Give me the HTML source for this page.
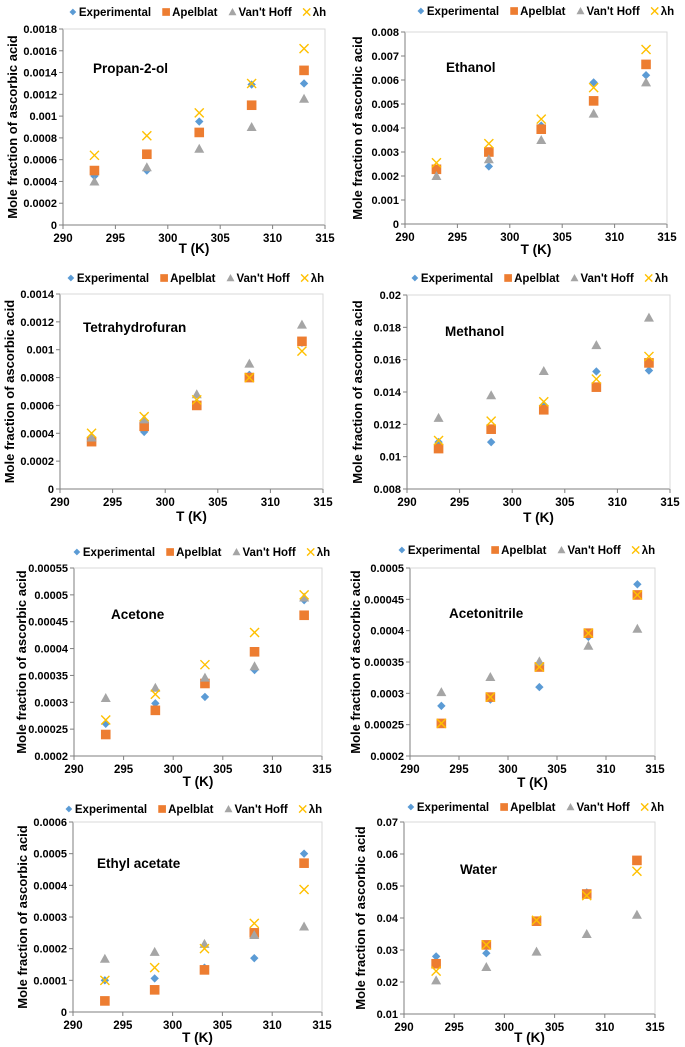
<!DOCTYPE html>
<html><head><meta charset="utf-8"><style>
html,body{margin:0;padding:0;background:#fff;}
svg{display:block;font-family:"Liberation Sans",Arial,sans-serif;font-weight:bold;}
</style></head><body>
<svg id="fig" width="685" height="1047" viewBox="0 0 685 1047" xmlns="http://www.w3.org/2000/svg"></svg>
<script>
// ---- data ----
const temps = [293, 298, 303, 308, 313];
const temps2 = [293.2, 298.2, 303.2, 308.2, 313.2];
const xTicks = [290, 295, 300, 305, 310, 315];
const seriesNames = ["Experimental", "Apelblat", "Van't Hoff", "λh"];

const p1Exp = [0.00045, 0.0005, 0.00095, 0.00129, 0.0013];
const p1Apel = [0.0005, 0.00065, 0.00085, 0.0011, 0.00142];
const p1VH = [0.0004, 0.00053, 0.0007, 0.0009, 0.00116];
const p1Lh = [0.00064, 0.00082, 0.00103, 0.0013, 0.00162];
const p1Ticks = ["0","0.0002","0.0004","0.0006","0.0008","0.001","0.0012","0.0014","0.0016","0.0018"];

const p2Exp = [0.0023, 0.0024, 0.0041, 0.0059, 0.0062];
const p2Apel = [0.00228, 0.003, 0.00395, 0.00513, 0.00665];
const p2VH = [0.002, 0.0027, 0.0035, 0.0046, 0.0059];
const p2Lh = [0.00255, 0.00335, 0.00437, 0.00568, 0.00727];
const p2Ticks = ["0","0.001","0.002","0.003","0.004","0.005","0.006","0.007","0.008"];

const p3Exp = [0.00035, 0.00041, 0.00062, 0.00082, 0.00105];
const p3Apel = [0.00034, 0.00045, 0.0006, 0.0008, 0.00106];
const p3VH = [0.00037, 0.0005, 0.00068, 0.0009, 0.00118];
const p3Lh = [0.0004, 0.00052, 0.00064, 0.0008, 0.00099];
const p3Ticks = ["0","0.0002","0.0004","0.0006","0.0008","0.001","0.0012","0.0014"];

const p4Exp = [0.0109, 0.0109, 0.0132, 0.01527, 0.01533];
const p4Apel = [0.0105, 0.0117, 0.0129, 0.0143, 0.0158];
const p4VH = [0.0124, 0.0138, 0.0153, 0.0169, 0.0186];
const p4Lh = [0.011, 0.0122, 0.0134, 0.0148, 0.0162];
const p4Ticks = ["0.008","0.01","0.012","0.014","0.016","0.018","0.02"];

const p5Exp = [0.00026, 0.000298, 0.00031, 0.00036, 0.00049];
const p5Apel = [0.00024, 0.000285, 0.000335, 0.000394, 0.000462];
const p5VH = [0.000308, 0.000327, 0.000346, 0.000367, 0.000495];
const p5Lh = [0.000267, 0.000315, 0.00037, 0.00043, 0.0005];
const p5Ticks = ["0.0002","0.00025","0.0003","0.00035","0.0004","0.00045","0.0005","0.00055"];

const p6Exp = [0.00028, 0.00029, 0.00031, 0.00039, 0.000474];
const p6Apel = [0.000252, 0.000294, 0.000342, 0.000396, 0.000457];
const p6VH = [0.000302, 0.000326, 0.000351, 0.000376, 0.000403];
const p6Lh = [0.000252, 0.000294, 0.000342, 0.000396, 0.000457];
const p6Ticks = ["0.0002","0.00025","0.0003","0.00035","0.0004","0.00045","0.0005"];

const p7Exp = [0.0001, 0.000106, 0.00014, 0.00017, 0.0005];
const p7Apel = [0.000035, 0.00007, 0.000133, 0.00025, 0.00047];
const p7VH = [0.000168, 0.00019, 0.000215, 0.000243, 0.00027];
const p7Lh = [0.0001, 0.00014, 0.0002, 0.00028, 0.000387];
const p7Ticks = ["0","0.0001","0.0002","0.0003","0.0004","0.0005","0.0006"];

const p8Exp = [0.028, 0.029, 0.039, 0.048, 0.058];
const p8Apel = [0.0257, 0.0316, 0.039, 0.0475, 0.058];
const p8VH = [0.0205, 0.0247, 0.0295, 0.035, 0.041];
const p8Lh = [0.0234, 0.0316, 0.0393, 0.047, 0.0546];
const p8Ticks = ["0.01","0.02","0.03","0.04","0.05","0.06","0.07"];

const panels = [
 {name:"propan-2-ol", title:"Propan-2-ol", T:temps, s:[p1Exp,p1Apel,p1VH,p1Lh], ticks:p1Ticks, x0:63,x1:325,yT:29,yB:225, tx:93,ty:73, ly:12, lc:198, ylx:12, xly:253},
 {name:"ethanol", title:"Ethanol", T:temps, s:[p2Exp,p2Apel,p2VH,p2Lh], ticks:p2Ticks, x0:405,x1:667,yT:32,yB:224, tx:446,ty:72, ly:11, lc:546, ylx:357, xly:254},
 {name:"tetrahydrofuran", title:"Tetrahydrofuran", T:temps, s:[p3Exp,p3Apel,p3VH,p3Lh], ticks:p3Ticks, x0:60,x1:323,yT:294,yB:489, tx:83,ty:332, ly:278, lc:196, ylx:9, xly:521},
 {name:"methanol", title:"Methanol", T:temps, s:[p4Exp,p4Apel,p4VH,p4Lh], ticks:p4Ticks, x0:407,x1:670,yT:295,yB:489, tx:445,ty:336, ly:278, lc:540, ylx:357, xly:522},
 {name:"acetone", title:"Acetone", T:temps2, s:[p5Exp,p5Apel,p5VH,p5Lh], ticks:p5Ticks, x0:74,x1:322,yT:568,yB:756, tx:111,ty:619, ly:552, lc:202, ylx:21, xly:786},
 {name:"acetonitrile", title:"Acetonitrile", T:temps2, s:[p6Exp,p6Apel,p6VH,p6Lh], ticks:p6Ticks, x0:410,x1:655,yT:568,yB:756, tx:449,ty:618, ly:550, lc:527, ylx:355, xly:787},
 {name:"ethyl-acetate", title:"Ethyl acetate", T:temps2, s:[p7Exp,p7Apel,p7VH,p7Lh], ticks:p7Ticks, x0:73,x1:322,yT:822,yB:1012, tx:97,ty:868, ly:809, lc:194, ylx:22, xly:1042},
 {name:"water", title:"Water", T:temps2, s:[p8Exp,p8Apel,p8VH,p8Lh], ticks:p8Ticks, x0:404,x1:655,yT:822,yB:1014, tx:460,ty:874, ly:807, lc:536, ylx:360, xly:1042}
];

const NS = "http://www.w3.org/2000/svg";
const svg = document.getElementById('fig');
function mk(tag, parent, attrs){
  const e = document.createElementNS(NS, tag);
  for (const k in attrs) e.setAttribute(k, attrs[k]);
  parent.appendChild(e);
  return e;
}
const colors = ["#5b9bd5","#ed7d31","#a5a5a5","#ffc000"];
function marker(g, k, x, y, sc){
  sc = sc || 1;
  let e;
  if (k===0){ const r=4.2*sc; e = mk('polygon', g, {points:`${x},${y-r} ${x+r},${y} ${x},${y+r} ${x-r},${y}`, fill:colors[0]}); }
  else if (k===1){ const r=4.8*sc; e = mk('rect', g, {x:x-r,y:y-r,width:2*r,height:2*r,fill:colors[1]}); }
  else if (k===2){ const r=5*sc; e = mk('polygon', g, {points:`${x},${y-r} ${x+r},${y+r*0.8} ${x-r},${y+r*0.8}`, fill:colors[2]}); }
  else { const r=4.5*sc; e = mk('path', g, {d:`M${x-r},${y-r}L${x+r},${y+r}M${x+r},${y-r}L${x-r},${y+r}`, stroke:colors[3], 'stroke-width':1.4, fill:'none'}); }
  return e;
}

panels.forEach(p => {
  const g = mk('g', svg, {});
  
  
  const yMin = parseFloat(p.ticks[0]), yMax = parseFloat(p.ticks[p.ticks.length-1]);
  const xs = v => p.x0 + (v - xTicks[0]) / (xTicks[xTicks.length-1] - xTicks[0]) * (p.x1 - p.x0);
  const ys = v => p.yB - (v - yMin) / (yMax - yMin) * (p.yB - p.yT);

  const ax = mk('path', g, {d:`M${p.x0},${p.yT}V${p.yB}H${p.x1}`, stroke:'#7f7f7f', 'stroke-width':1, fill:'none'});
  
  
  const rb = mk('path', g, {d:`M${p.x0},${p.yT}H${p.x1}V${p.yB}`, stroke:'#d9d9d9', 'stroke-width':1, fill:'none'});
  
  

  p.ticks.forEach(t => {
    const y = ys(parseFloat(t));
    mk('line', g, {x1:p.x0-4, x2:p.x0, y1:y, y2:y, stroke:'#7f7f7f'});
    const tx = mk('text', g, {x:p.x0-6, y:y+4, 'text-anchor':'end', 'font-size':11, fill:'#000'});
    tx.textContent = t;
    
    
  });
  xTicks.forEach(t => {
    const x = xs(t);
    mk('line', g, {x1:x, x2:x, y1:p.yB, y2:p.yB+4, stroke:'#7f7f7f'});
    const tx = mk('text', g, {x:x, y:p.yB+17, 'text-anchor':'middle', 'font-size':11.5, fill:'#000'});
    tx.textContent = t;
    
    
  });
  const xl = mk('text', g, {x:(p.x0+p.x1)/2, y:p.xly, 'text-anchor':'middle', 'font-size':13.5, fill:'#000'});
  xl.textContent = 'T (K)';
  
  
  const yc = (p.yT+p.yB)/2;
  const yl = mk('text', g, {x:p.ylx+5, y:yc, 'text-anchor':'middle', 'font-size':13, fill:'#000', transform:`rotate(-90 ${p.ylx+5} ${yc})`});
  yl.textContent = 'Mole fraction of ascorbic acid';
  
  
  const tt = mk('text', g, {x:p.tx, y:p.ty, 'font-size':13.5, fill:'#000'});
  tt.textContent = p.title;
  
  

  p.s.forEach((vals, k) => {
    const sg = mk('g', g, {});
    
    
    vals.forEach((v, i) => {
      const m = marker(sg, k, xs(p.T[i]), ys(v));
      
      
    });
  });

  const lg = mk('g', g, {});
  
  
  const items = [];
  let total = 0;
  seriesNames.forEach((n, k) => {
    const eg = mk('g', lg, {});
    
    
    const t = mk('text', eg, {x:0, y:p.ly+4, 'font-size':11.5, fill:'#000'});
    t.textContent = n;
    const w = t.getComputedTextLength();
    items.push({eg, t, w, k});
    total += 11 + w + (k<3 ? 10 : 0);
  });
  let cx = p.lc - total/2;
  items.forEach(it => {
    marker(it.eg, it.k, cx+4, p.ly, 0.8);
    it.t.setAttribute('x', cx + 10);
    cx += 11 + it.w + 10;
  });
});
</script>
</body></html>
